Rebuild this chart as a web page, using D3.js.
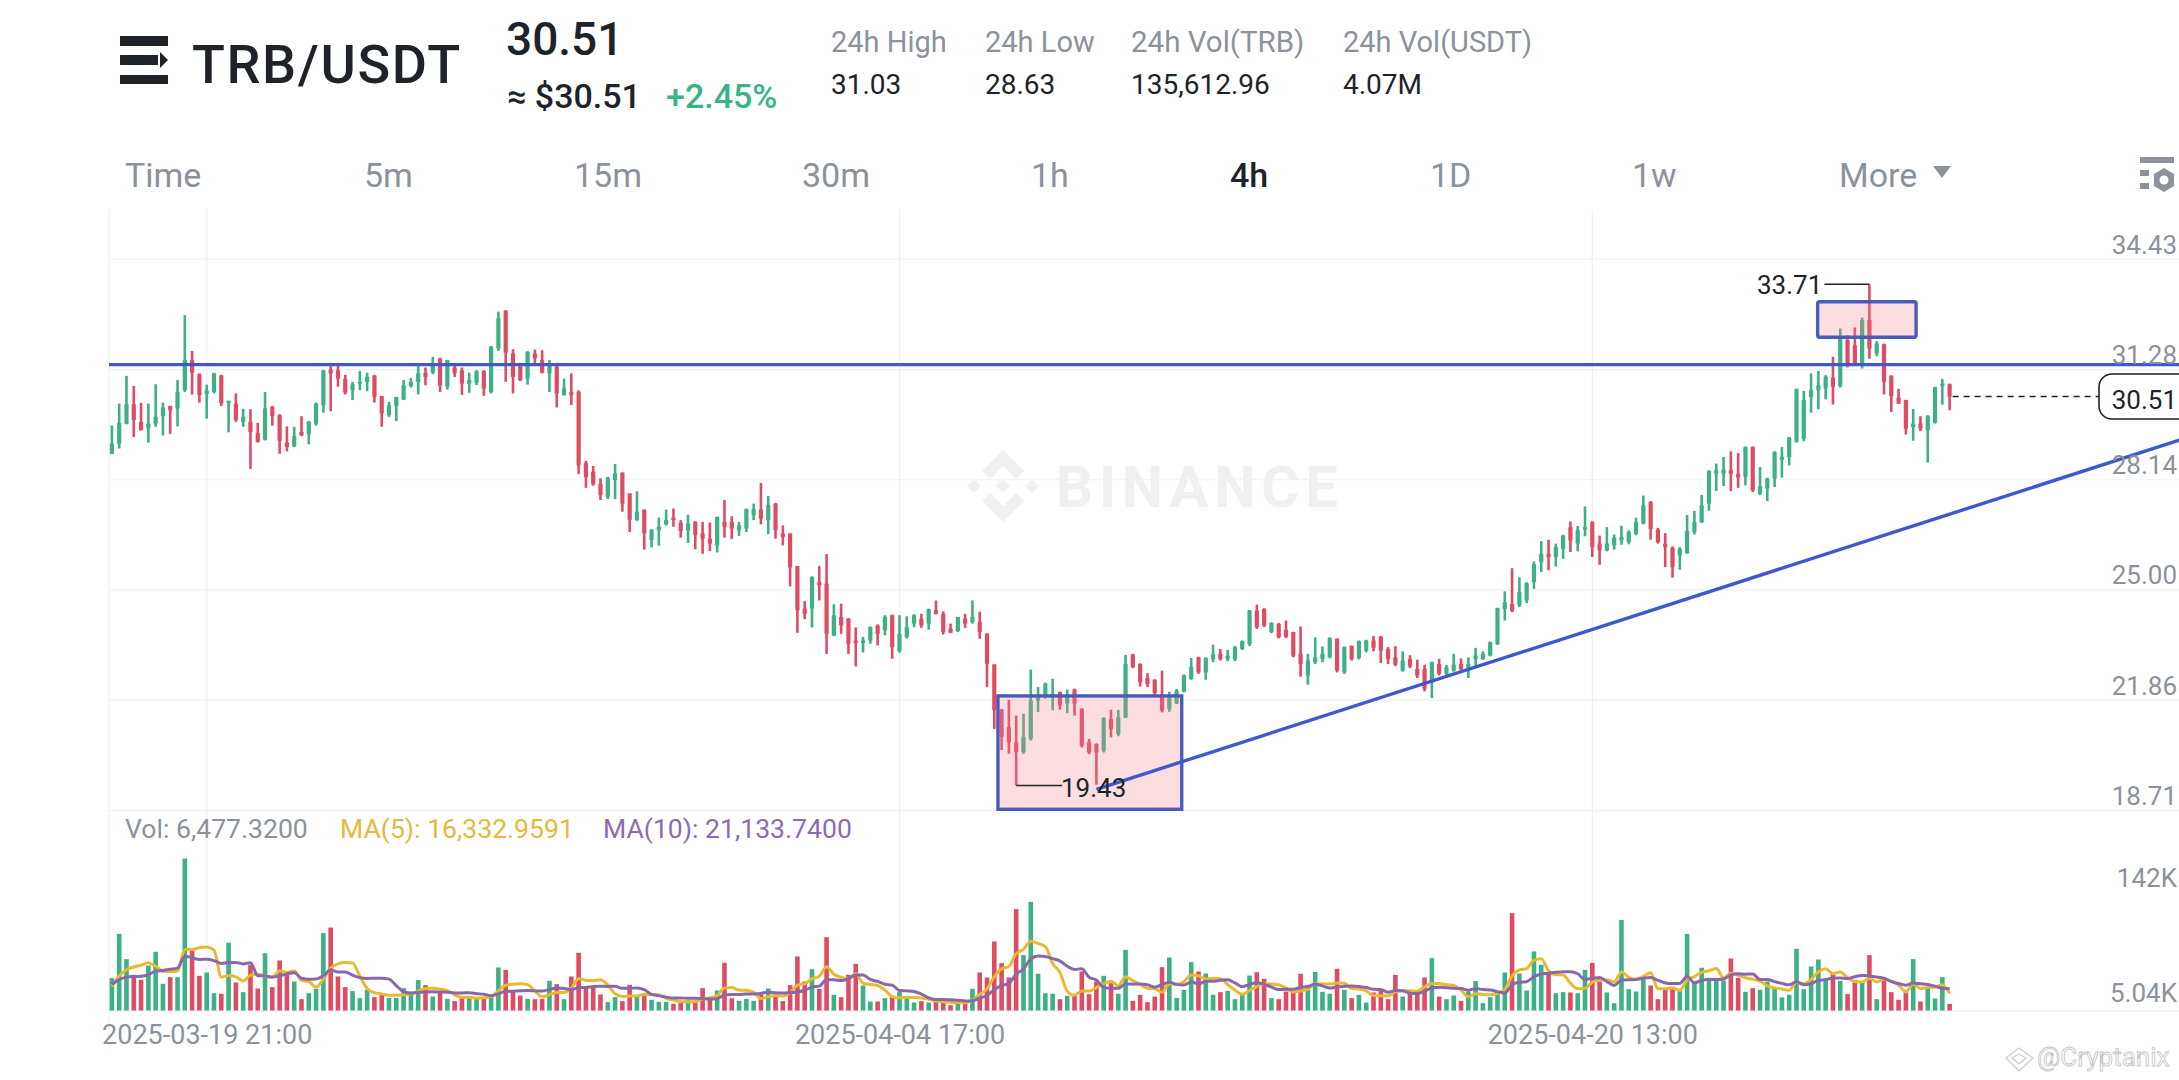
<!DOCTYPE html>
<html>
<head>
<meta charset="utf-8">
<title>TRB/USDT</title>
<script src="https://cdnjs.cloudflare.com/ajax/libs/d3/7.8.5/d3.min.js"></script>
<style>
html, body { margin: 0; padding: 0; background: #fff; overflow: hidden; }
text { font-family: Roboto, sans-serif; }
</style>
</head>
<body>
<div id="container"></div>
<script>
// candles, 4h apart
var opens = [
28.88,29.17,29.74,30.29,29.79,29.60,29.74,29.95,30.24,30.17,
30.69,31.55,31.15,30.58,30.64,31.11,30.33,30.31,29.79,29.79,
29.47,29.28,30.22,29.98,29.20,29.09,29.50,29.44,29.74,30.26,
31.28,31.26,31.01,30.69,30.88,30.93,31.11,30.52,29.98,30.24,
30.43,30.81,30.93,31.19,31.19,31.59,30.79,31.34,31.26,30.88,
30.90,31.24,30.64,31.88,32.96,31.74,31.45,31.02,31.74,31.55,
31.17,31.36,30.55,30.64,30.64,28.62,28.37,28.03,27.65,28.13,
28.34,27.75,26.99,27.29,26.42,26.70,26.87,27.06,26.91,26.70,
26.94,26.61,26.46,26.27,26.94,26.94,26.70,26.75,27.13,27.29,
26.99,27.46,26.61,26.61,25.68,24.47,24.47,25.23,25.18,23.71,
24.23,24.18,23.56,23.49,23.56,23.99,23.85,24.28,23.26,23.66,
24.04,24.18,24.04,24.42,24.32,23.90,23.83,24.18,24.09,24.09,
23.75,22.88,21.59,21.09,20.66,20.38,20.76,21.85,21.95,21.95,
22.09,21.76,22.16,21.61,20.66,20.61,20.42,21.32,20.89,21.37,
23.16,22.89,22.49,22.44,21.99,21.61,21.77,22.11,22.46,23.08,
22.65,23.03,23.18,23.03,23.03,23.32,23.46,24.41,24.46,23.80,
24.03,23.86,23.80,23.18,22.56,22.94,23.03,23.08,23.61,22.65,
23.41,23.06,23.27,23.56,23.67,23.32,23.08,22.70,23.03,22.75,
22.75,22.37,22.89,22.61,22.70,22.89,22.78,23.03,23.03,23.13,
23.46,24.46,24.60,24.56,24.70,25.22,25.79,26.03,25.94,26.17,
26.79,26.32,26.72,26.93,26.32,26.13,26.27,26.41,26.36,26.60,
26.89,27.51,26.72,26.32,26.20,25.98,26.05,26.65,26.93,27.46,
28.31,28.31,28.41,28.31,28.22,29.07,27.74,27.89,28.17,28.71,
28.79,29.22,29.31,30.50,30.69,30.74,31.05,30.81,32.12,31.97,
31.45,32.69,31.74,32.00,31.09,30.48,30.41,29.64,29.74,29.55,
29.76,30.81,30.86];
var highs = [
29.69,30.31,31.10,30.81,30.33,30.31,30.86,30.34,30.25,30.98,
32.83,31.81,31.17,30.85,31.19,31.13,30.39,30.60,30.16,30.15,
29.76,30.64,30.24,30.01,29.66,29.65,29.95,29.82,30.34,31.26,
31.47,31.47,31.13,30.93,31.24,31.19,31.13,30.53,30.36,30.50,
30.98,31.04,31.47,31.34,31.64,31.62,31.55,31.47,31.34,31.19,
31.26,31.26,31.95,32.93,32.97,31.86,31.47,31.80,31.85,31.83,
31.55,31.47,31.02,31.17,30.69,28.68,28.53,28.18,28.22,28.59,
28.35,27.75,27.81,27.29,26.73,27.06,27.29,27.32,26.99,27.14,
26.96,26.94,26.92,27.09,27.56,27.10,26.94,27.32,27.46,28.05,
27.68,27.48,26.84,26.61,25.68,24.68,25.39,25.68,26.02,24.59,
24.61,24.20,23.93,23.66,23.96,24.02,24.28,24.30,24.28,24.25,
24.31,24.32,24.47,24.70,24.39,24.04,24.23,24.32,24.70,24.38,
23.77,22.88,21.61,21.87,21.42,21.47,22.73,22.23,22.36,22.47,
22.11,22.16,22.19,21.63,20.75,20.63,21.37,21.59,21.58,23.15,
23.18,22.91,22.63,22.46,22.70,22.10,22.18,22.59,23.06,23.10,
23.08,23.44,23.32,23.29,23.40,23.56,24.43,24.58,24.48,24.08,
24.06,24.13,23.81,23.96,23.18,23.65,23.39,23.65,23.62,23.39,
23.41,23.56,23.58,23.69,23.69,23.37,23.40,23.25,23.14,23.01,
22.87,22.96,23.04,22.86,23.18,23.05,23.08,23.35,23.25,23.53,
24.49,24.96,25.62,25.36,25.22,25.81,26.39,26.43,26.32,26.57,
26.95,26.82,27.38,26.96,26.55,26.79,26.58,26.83,26.70,27.06,
27.69,27.53,26.77,26.62,26.24,26.22,27.14,27.25,27.71,28.41,
28.60,28.79,28.95,28.90,29.09,29.09,28.50,28.20,28.95,29.07,
29.36,30.74,30.67,31.17,31.24,31.12,31.64,32.45,32.26,32.48,
32.76,33.71,32.09,32.02,31.12,30.73,30.42,30.16,29.95,29.98,
30.79,31.01,30.88];
var lows = [
28.87,29.03,29.72,29.36,29.55,29.20,29.65,29.40,29.45,29.66,
30.64,30.57,30.34,29.88,30.60,30.24,29.49,29.79,29.65,28.45,
29.20,29.26,29.68,28.88,28.95,29.07,29.38,29.15,29.68,30.05,
30.09,30.79,30.57,30.41,30.69,30.66,30.34,29.65,29.93,29.81,
30.41,30.77,30.57,30.83,31.15,30.64,30.71,31.07,30.56,30.62,
30.84,30.53,30.60,31.81,30.93,30.60,30.95,30.85,31.45,31.17,
30.64,30.20,30.54,30.27,28.30,27.91,27.97,27.56,27.59,27.59,
27.23,26.65,26.97,26.15,26.21,26.26,26.84,26.80,26.49,26.34,
26.16,26.03,26.11,26.07,26.49,26.45,26.54,26.65,26.99,26.87,
26.59,26.46,26.27,25.10,23.78,24.17,23.93,24.70,23.18,23.68,
23.75,23.18,22.82,23.22,23.47,23.42,23.71,23.04,23.21,23.61,
23.94,23.92,23.87,24.30,23.73,23.77,23.80,23.92,24.04,23.61,
22.23,21.04,20.44,20.33,19.43,20.33,20.71,21.52,21.90,21.57,
21.59,21.49,21.42,20.51,20.32,19.45,20.37,20.80,20.83,21.35,
22.77,22.25,22.23,22.01,21.51,21.53,21.75,22.08,22.44,22.61,
22.44,22.94,22.99,22.97,22.97,23.29,23.40,23.89,23.94,23.77,
23.62,23.63,23.08,22.53,22.30,22.89,22.94,23.05,22.65,22.61,
22.99,23.02,23.22,23.25,22.92,22.89,22.83,22.67,22.77,22.49,
22.11,21.92,22.56,22.53,22.67,22.67,22.49,22.84,23.01,23.11,
23.43,24.13,24.37,24.51,24.63,25.03,25.51,25.56,25.67,25.89,
26.08,26.10,26.53,25.94,25.72,26.10,26.15,26.29,26.30,26.56,
26.87,26.43,26.32,25.65,25.35,25.58,26.03,26.58,26.91,27.26,
27.82,27.96,27.82,27.91,27.98,27.79,27.70,27.53,27.93,28.20,
28.55,29.20,29.24,30.05,30.15,30.43,30.28,30.77,31.34,31.40,
31.31,31.59,31.66,30.57,30.07,30.30,29.43,29.25,29.53,28.63,
29.74,30.28,30.12];
var closes = [
29.17,29.76,30.29,29.84,29.55,29.74,29.93,30.20,30.12,30.64,
31.55,31.19,30.55,30.69,31.17,30.31,30.39,29.84,29.93,29.50,
29.22,30.17,29.95,29.25,29.07,29.38,29.41,29.79,30.31,31.26,
31.17,31.02,30.62,30.86,30.93,31.07,30.50,30.03,30.26,30.50,
30.83,30.93,31.17,31.07,31.45,30.83,31.55,31.17,30.88,30.98,
31.24,30.74,31.93,32.74,31.76,31.07,30.98,31.79,31.60,31.19,
31.45,30.60,30.74,30.55,28.55,28.22,28.01,27.70,28.20,28.32,
27.46,27.00,27.23,26.61,26.72,26.80,26.99,26.99,26.68,26.89,
26.56,26.46,26.32,27.08,26.80,26.75,26.84,27.30,27.30,27.03,
27.42,26.70,26.51,25.64,24.42,24.32,25.37,25.13,23.75,24.28,
23.99,23.47,23.49,23.56,23.94,23.75,24.23,23.37,23.75,23.94,
24.28,23.99,24.45,24.32,23.80,23.78,24.23,24.04,24.23,23.80,
22.90,21.57,20.81,20.66,20.38,20.81,21.85,21.95,22.33,22.04,
21.71,21.95,21.76,20.56,20.37,20.37,21.35,21.04,21.37,22.89,
22.80,22.37,22.32,22.06,21.56,21.94,22.13,22.57,22.80,22.65,
23.06,23.16,23.03,23.13,23.37,23.54,24.41,23.94,23.99,24.06,
23.65,23.67,23.13,22.89,22.99,23.08,23.18,23.63,22.70,23.37,
23.03,23.54,23.56,23.35,23.27,23.03,22.87,22.99,22.82,22.56,
22.18,22.94,22.61,22.80,22.87,22.75,22.89,23.13,23.18,23.51,
24.49,24.65,24.41,24.94,25.19,25.74,26.03,25.94,26.22,26.55,
26.41,26.70,26.79,26.22,26.13,26.32,26.49,26.51,26.65,26.93,
27.41,26.74,26.36,26.22,25.65,26.17,26.68,26.93,27.41,28.39,
28.41,28.43,28.31,28.20,29.07,27.84,27.95,28.17,28.93,28.79,
29.34,30.72,30.41,30.69,30.83,31.07,30.79,32.17,31.40,31.45,
32.69,31.88,32.02,30.93,30.52,30.31,29.60,29.74,29.60,29.95,
30.77,30.88,30.51];
// volume per candle, thousands of TRB
var volumes = [
31.7,75.2,50.4,35.0,30.1,44.1,57.6,26.2,32.7,32.7,
149.1,58.9,34.0,37.3,17.0,16.4,66.4,27.5,18.0,44.8,
21.6,56.2,22.9,49.1,36.6,28.4,11.1,17.0,21.3,75.9,
81.4,33.4,22.9,19.0,12.1,20.3,13.1,17.0,12.4,12.4,
21.9,18.6,29.8,24.9,13.7,17.7,11.4,9.2,13.1,13.7,
13.1,13.1,15.4,42.2,39.9,18.6,14.7,11.4,11.1,11.4,
29.1,25.8,11.1,33.4,56.6,21.9,22.9,15.7,8.2,13.1,
9.2,25.2,15.4,17.0,10.5,8.5,8.5,6.5,8.8,10.5,
9.5,21.9,12.1,19.6,46.8,12.1,9.5,11.4,9.5,15.4,
21.6,15.4,9.2,24.9,53.0,28.4,40.5,21.3,71.9,15.4,
13.1,35.0,45.8,24.5,8.8,8.8,12.1,13.7,18.6,12.1,
7.8,9.2,7.8,9.2,8.8,5.2,7.2,7.8,21.3,37.3,
32.4,67.7,46.4,32.4,99.4,54.3,106.6,36.0,17.0,16.4,
11.1,14.4,15.4,38.3,16.0,28.4,34.0,26.8,16.4,59.5,
9.5,15.4,8.2,13.7,42.5,52.0,12.4,20.3,47.4,38.3,
36.3,15.4,18.0,19.3,11.1,15.4,34.3,37.6,31.1,12.1,
11.1,18.6,18.0,36.0,20.9,37.9,18.3,16.4,40.9,20.3,
12.1,15.4,7.8,17.7,19.6,11.1,35.0,13.7,17.0,17.7,
32.4,51.3,13.7,11.1,14.7,9.5,18.6,28.8,7.2,13.1,
17.0,37.3,95.5,36.3,19.6,57.9,44.8,36.6,17.0,18.0,
17.7,17.0,39.9,46.8,28.4,17.7,7.2,88.9,20.9,18.6,
31.7,24.5,11.1,21.3,21.9,19.6,75.2,28.4,41.9,30.1,
30.1,29.4,51.0,32.0,18.3,21.9,20.3,28.4,21.9,12.8,
15.4,60.5,20.9,43.2,50.0,30.1,36.0,29.1,16.0,30.1,
28.4,54.3,11.1,31.1,18.0,10.5,20.3,50.4,8.8,22.9,
11.8,32.7,6.48];
// nine candles left of the frame, only estimated from where the MA lines start
var earlierVolumes = [30,26,29,27,28,24,19,22,21];

var priceTicks = [34.43, 31.28, 28.14, 25.00, 21.86, 18.71];
var volumeTicks = [142, 5.04];
var timeTicks = ["2025-03-19 21:00", "2025-04-04 17:00", "2025-04-20 13:00"];
var resistanceLevel = 31.42;
var trendFrom = [135, 19.32], trendTo = [283.5, 29.27];   // candle number, price
var lowBox = { from: 121.5, to: 146.7, top: 21.98, bottom: 18.75 };
var highBox = { from: 233.9, to: 247.4, top: 33.21, bottom: 32.20 };
var lastPrice = 30.51, highPrice = 33.71, lowPrice = 19.43;

var W = 2179, H = 1080;
var GREEN = "#3cb085", RED = "#df4c63", BLUE = "#3f58cf", DARK = "#1e2329", GREY = "#8b929c", GRID = "#eef0f2";
var LEFT = 109, FOUR_H = 4 * 3600 * 1000;

var parseTime = d3.utcParse("%Y-%m-%d %H:%M");
var firstTick = parseTime(timeTicks[0]);
var lastTick = parseTime(timeTicks[2]);
// candle 13 sits on the first time label
function candleDate(i) { return new Date(+firstTick + (i - 13) * FOUR_H); }

var x = d3.scaleUtc().domain([firstTick, lastTick]).range([206.7, 1592.3]);
var y = d3.scaleLinear().domain([18.71, 34.43]).range([810.7, 259]);
var yVol = d3.scaleLinear().domain([0, 149.1]).range([1010.5, 858.5]);
// the 142K / 5.04K captions do not sit on the bar scale in the screenshot
var yVolLabel = d3.scaleLinear().domain([5.04, 142]).range([1001.7, 886]);
function xi(i) { return x(candleDate(i)); }

var svg = d3.select("#container").append("svg")
    .attr("width", W).attr("height", H).style("display", "block");

var defs = svg.append("defs");
defs.append("filter").attr("id", "soft")
    .attr("x", "-2%").attr("y", "-2%").attr("width", "104%").attr("height", "104%")
    .append("feGaussianBlur").attr("stdDeviation", 0.5);
defs.append("clipPath").attr("id", "plotClip")
    .append("rect").attr("x", LEFT).attr("y", 200).attr("width", W).attr("height", 880);

function label(s, px, py, size, fill, weight) {
    return svg.append("text").attr("x", px).attr("y", py)
        .attr("font-size", size).attr("fill", fill || DARK)
        .attr("font-weight", weight || 400).text(s);
}

// header
var menu = svg.append("g").attr("fill", DARK);
menu.append("rect").attr("x", 120).attr("y", 36).attr("width", 48).attr("height", 10);
menu.append("rect").attr("x", 120).attr("y", 55).attr("width", 38).attr("height", 10);
menu.append("rect").attr("x", 120).attr("y", 75).attr("width", 48).attr("height", 9);
menu.append("path").attr("d", "M160 52L168 60L160 68Z");

label("TRB/USDT", 192, 83, 54, DARK, 500).attr("letter-spacing", 1.6);
label("30.51", 506, 55, 46, DARK, 500);
label("≈ $30.51", 507, 108, 34, DARK, 500);
label("+2.45%", 666, 108, 34, "#38b487", 500);

label("24h High", 831, 52, 29, GREY);
label("31.03", 831, 94, 28, DARK);
label("24h Low", 985, 52, 29, GREY);
label("28.63", 985, 94, 28, DARK);
label("24h Vol(TRB)", 1131, 52, 29.5, GREY);
label("135,612.96", 1131, 94, 28, DARK);
label("24h Vol(USDT)", 1343, 52, 29, GREY);
label("4.07M", 1343, 94, 28, DARK);

label("Time", 125, 187, 34, GREY);
label("5m", 364, 187, 34, GREY);
label("15m", 574, 187, 34, GREY);
label("30m", 802, 187, 34, GREY);
label("1h", 1031, 187, 34, GREY);
label("4h", 1230, 187, 34, DARK, 500);
label("1D", 1430, 187, 34, GREY);
label("1w", 1632, 187, 34, GREY);
label("More", 1839, 187, 34, GREY);
svg.append("path").attr("d", "M1933 166H1951L1942 178Z").attr("fill", GREY);

// settings icon
var gear = svg.append("g").attr("fill", GREY);
gear.append("rect").attr("x", 2140).attr("y", 157).attr("width", 34).attr("height", 6);
gear.append("rect").attr("x", 2140).attr("y", 170).attr("width", 9).attr("height", 6);
gear.append("rect").attr("x", 2140).attr("y", 183).attr("width", 9).attr("height", 6);
gear.append("path").attr("d", "M2164 168L2174 174V186L2164 192L2154 186V174Z");
svg.append("circle").attr("cx", 2164).attr("cy", 180).attr("r", 4.5).attr("fill", "#fff");

// grid
svg.append("g").selectAll("line").data(timeTicks).enter().append("line")
    .attr("x1", function (d) { return x(parseTime(d)); })
    .attr("x2", function (d) { return x(parseTime(d)); })
    .attr("y1", 210).attr("y2", 1011)
    .attr("stroke", GRID).attr("stroke-width", 1.2);
svg.append("line").attr("x1", LEFT).attr("x2", LEFT).attr("y1", 210).attr("y2", 1050)
    .attr("stroke", GRID).attr("stroke-width", 1.2);
svg.append("line").attr("x1", LEFT).attr("x2", W).attr("y1", 1011).attr("y2", 1011)
    .attr("stroke", GRID).attr("stroke-width", 1.5);
svg.append("g").selectAll("line").data(priceTicks).enter().append("line")
    .attr("x1", LEFT).attr("x2", W)
    .attr("y1", function (d) { return y(d); }).attr("y2", function (d) { return y(d); })
    .attr("stroke", GRID).attr("stroke-width", 1.2);

// watermark
var logo = svg.append("g").attr("transform", "translate(1003,486)").attr("fill", "#eef0f2");
logo.append("path").attr("d", "M0 -7L7 0L0 7L-7 0Z");
logo.append("path").attr("d", "M-36 0L-29 -7L-22 0L-29 7Z");
logo.append("path").attr("d", "M36 0L29 -7L22 0L29 7Z");
logo.append("path").attr("d", "M0 -36L21 -15L13 -7L0 -20L-13 -7L-21 -15Z");
logo.append("path").attr("d", "M0 36L21 15L13 7L0 20L-13 7L-21 15Z");
label("BINANCE", 1056, 507, 58, "#eef0f2", 700).attr("letter-spacing", 6);

// volume bars
var marks = svg.append("g").attr("clip-path", "url(#plotClip)").append("g").attr("filter", "url(#soft)");
marks.append("g").selectAll("rect").data(volumes).enter().append("rect")
    .attr("x", function (d, i) { return xi(i) - 2.3; })
    .attr("width", 4.6)
    .attr("y", function (d) { return yVol(d); })
    .attr("height", function (d) { return yVol(0) - yVol(d); })
    .attr("fill", function (d, i) { return closes[i] >= opens[i] ? GREEN : RED; });

// moving averages of the volume bars
function movingAverage(n) {
    var all = earlierVolumes.concat(volumes), off = earlierVolumes.length;
    return volumes.map(function (d, i) {
        return d3.mean(all.slice(i + off - n + 1, i + off + 1));
    });
}
var maLine = d3.line()
    .x(function (d, i) { return xi(i); })
    .y(function (d) { return yVol(d); })
    .curve(d3.curveMonotoneX);
marks.append("path").datum(movingAverage(5)).attr("d", maLine)
    .attr("fill", "none").attr("stroke", "#e9b92f").attr("stroke-width", 3);
marks.append("path").datum(movingAverage(10)).attr("d", maLine)
    .attr("fill", "none").attr("stroke", "#8a66ab").attr("stroke-width", 3);

// candles
var candle = marks.append("g").selectAll("g").data(d3.range(opens.length)).enter().append("g")
    .attr("fill", function (i) { return closes[i] >= opens[i] ? GREEN : RED; });
candle.append("rect")
    .attr("x", function (i) { return xi(i) - 1.3; })
    .attr("width", 2.6)
    .attr("y", function (i) { return y(highs[i]); })
    .attr("height", function (i) { return y(lows[i]) - y(highs[i]); });
candle.append("rect")
    .attr("x", function (i) { return xi(i) - 2.1; })
    .attr("width", 4.2)
    .attr("y", function (i) { return y(Math.max(opens[i], closes[i])); })
    .attr("height", function (i) { return Math.max(1.2, Math.abs(y(opens[i]) - y(closes[i]))); });

// drawn boxes and lines
function box(b, rx) {
    svg.append("rect")
        .attr("x", xi(b.from)).attr("y", y(b.top))
        .attr("width", xi(b.to) - xi(b.from)).attr("height", y(b.bottom) - y(b.top))
        .attr("rx", rx)
        .attr("fill", "#f4848f").attr("fill-opacity", 0.27)
        .attr("stroke", "#4a5cbb").attr("stroke-width", 3.4);
}
box(lowBox, 0);
box(highBox, 2);

svg.append("line").attr("x1", LEFT).attr("x2", W)
    .attr("y1", y(resistanceLevel)).attr("y2", y(resistanceLevel))
    .attr("stroke", BLUE).attr("stroke-width", 3.2);
svg.append("line")
    .attr("x1", xi(trendFrom[0])).attr("y1", y(trendFrom[1]))
    .attr("x2", xi(trendTo[0])).attr("y2", y(trendTo[1]))
    .attr("stroke", BLUE).attr("stroke-width", 3.4);

// high and low callouts
var highIndex = d3.range(highs.length).filter(function (i) { return highs[i] === highPrice; })[0];
var lowIndex = d3.range(lows.length).filter(function (i) { return lows[i] === lowPrice; })[0];
svg.append("line").attr("x1", xi(highIndex) - 45).attr("x2", xi(highIndex))
    .attr("y1", y(highPrice)).attr("y2", y(highPrice))
    .attr("stroke", DARK).attr("stroke-width", 1.5);
label(d3.format(".2f")(highPrice), 1757, 294, 26);
svg.append("line").attr("x1", xi(lowIndex)).attr("x2", xi(lowIndex) + 46)
    .attr("y1", y(lowPrice)).attr("y2", y(lowPrice))
    .attr("stroke", DARK).attr("stroke-width", 1.5);
label(d3.format(".2f")(lowPrice), 1061, 797, 26);

// last price
var lastX = xi(opens.length - 1);
svg.append("line").attr("x1", lastX + 3).attr("x2", 2099)
    .attr("y1", y(lastPrice)).attr("y2", y(lastPrice))
    .attr("stroke", DARK).attr("stroke-width", 1.5).attr("stroke-dasharray", "6 5");
svg.append("rect").attr("x", 2099).attr("y", 374).attr("width", 110).attr("height", 45).attr("rx", 13)
    .attr("fill", "#fff").attr("stroke", DARK).attr("stroke-width", 1.6);
label(d3.format(".2f")(lastPrice), 2177, 409, 26).attr("text-anchor", "end");

// price labels sit just above their lines, flush with the right edge
var priceAxis = svg.append("g").attr("transform", "translate(2177,0)")
    .call(d3.axisLeft(y).tickValues(priceTicks).tickSize(0).tickPadding(0)
        .tickFormat(d3.format(".2f")));
priceAxis.select(".domain").remove();
priceAxis.selectAll("text").attr("fill", GREY).attr("font-size", 26)
    .attr("font-family", "Roboto, sans-serif").attr("dy", -6);

// volume axis labels
var volAxis = svg.append("g").attr("transform", "translate(2177,0)")
    .call(d3.axisLeft(yVolLabel).tickValues(volumeTicks).tickSize(0).tickPadding(0)
        .tickFormat(function (d) { return d + "K"; }));
volAxis.select(".domain").remove();
volAxis.selectAll("text").attr("fill", GREY).attr("font-size", 26)
    .attr("font-family", "Roboto, sans-serif").attr("dy", 0);

// volume legend
label("Vol: 6,477.3200", 125, 838, 26.6, GREY);
label("MA(5): 16,332.9591", 340, 838, 26.6, "#e4b93c");
label("MA(10): 21,133.7400", 603, 838, 26.6, "#8e6bb0");

// time axis
var timeAxis = svg.append("g").attr("transform", "translate(0,1011)")
    .call(d3.axisBottom(x).tickValues(timeTicks.map(parseTime)).tickSize(0).tickPadding(0)
        .tickFormat(d3.utcFormat("%Y-%m-%d %H:%M")));
timeAxis.select(".domain").remove();
timeAxis.selectAll("text").attr("fill", GREY).attr("font-size", 27)
    .attr("font-family", "Roboto, sans-serif").attr("y", 33).attr("dy", 0);

// corner watermark
svg.append("path").attr("d", "M2019 1048L2033 1058L2019 1071L2006 1058Z M2019 1054L2026 1058L2019 1064L2012 1058Z")
    .attr("fill", "none").attr("stroke", "#c9ccd0").attr("stroke-width", 1.2);
label("@Cryptanix", 2037, 1066, 26, "#fff").attr("stroke", "#c4c7cb").attr("stroke-width", 0.9);
</script>
</body>
</html>
